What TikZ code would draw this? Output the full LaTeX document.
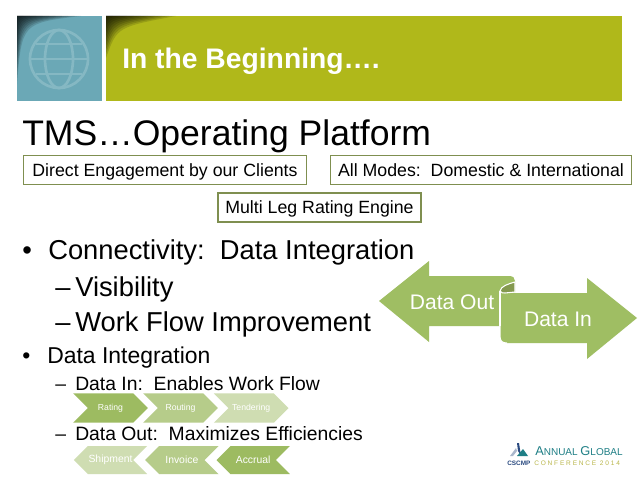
\documentclass[tikz,border=0pt]{standalone}
\usepackage{fontspec}
\setmainfont{Liberation Sans}
\usepackage{tikz}
\usetikzlibrary{positioning,shapes.symbols}

\definecolor{headerolive}{HTML}{B0B81A}
\definecolor{globeteal}{HTML}{6BA8B6}
\definecolor{globeline}{HTML}{85B8C3}
\definecolor{boxline}{HTML}{7F8F50}
\definecolor{arrowgreen}{HTML}{9FBE63}
\definecolor{curlgreen}{HTML}{84994F}
\definecolor{stepdark}{HTML}{9DBB61}
\definecolor{stepmid}{HTML}{B6CC8A}
\definecolor{steplight}{HTML}{CFDDB2}
\definecolor{logoteal}{HTML}{1F7F86}
\definecolor{logoolive}{HTML}{B9B64A}
\definecolor{logoblue}{HTML}{2A4A80}

\tikzset{
	label/.style={anchor=base west,inner sep=0pt,text=black},
	levelone/.style={label,font=\fontsize{20.5pt}{20.5pt}\selectfont},
	leveltwo/.style={label,font=\fontsize{20.5pt}{20.5pt}\selectfont},
	levelthree/.style={label,font=\fontsize{17.2pt}{17.2pt}\selectfont},
	levelfour/.style={label,font=\fontsize{14.5pt}{14.5pt}\selectfont},
	infobox/.style={draw=boxline,line width=1.1pt,fill=white,inner sep=0pt,minimum height=22pt,text height=12pt,text depth=3pt,text=black,font=\fontsize{13.3pt}{13.3pt}\selectfont},
	flowstep/.style={signal,signal from=west,signal to=east,signal pointer angle=90,draw=none,inner sep=0pt,minimum height=22pt,minimum width=56pt,text=white,font=\fontsize{6.5pt}{6.5pt}\selectfont},
	backstep/.style={flowstep,signal from=east,signal to=west,minimum height=21pt,minimum width=55pt,font=\fontsize{7.8pt}{7.8pt}\selectfont},
	arrowlabel/.style={text=white,inner sep=0pt,font=\fontsize{15.8pt}{15.8pt}\selectfont},
}

\begin{document}
\begin{tikzpicture}[x=0.75pt,y=-0.75pt,node distance=53pt,on grid]
		\useasboundingbox (0,0) rectangle (638,478);
		\fill[white] (0,0) rectangle (638,478);

		% header
		\fill[globeteal] (17,16) rectangle (102,101);
		\fill[headerolive] (106,16) rectangle (622,101);
		\foreach \k in {1,...,10} {
			\fill[black,opacity=0.14] (17,16) -- ({17+6.4*\k},16) .. controls ({17+0.5*\k},{16+0.7*\k}) .. (17,{16+6.8*\k}) -- cycle;
			\fill[black,opacity=0.14] (106,16) -- ({106+7*\k},16) .. controls ({106+1.1*\k},{16+1.1*\k}) .. (106,{16+4.2*\k}) -- cycle;
		}
		\begin{scope}[draw=globeline,line width=2pt]
			\draw (59,59) circle (29);
			\draw (59,59) ellipse (14 and 29);
			\draw (30,59) -- (88,59);
			\draw (36,44) -- (82,44);
			\draw (36,74) -- (82,74);
		\end{scope}
		\node[label,text=white,font=\bfseries\fontsize{21.2pt}{21.2pt}\selectfont] (Title) at (122,69) {In the Beginning….};

		\node[label,font=\fontsize{26.65pt}{26.65pt}\selectfont] (Platform) at (22,145) {TMS…Operating Platform};

		% boxes
		\node[infobox,minimum width=212pt] (Direct) at (165,170) {Direct Engagement by our Clients};
		\node[infobox,minimum width=226pt] (Modes) at (481,170) {All Modes:\ \ Domestic \& International};
		\node[infobox,minimum width=152pt] (Engine) at (319.5,207.5) {Multi Leg Rating Engine};

		% bullets
		\node[levelone] (BulletOne) at (22,259) {•};
		\node[levelone] (Connectivity) at (48,259) {Connectivity:\ \ Data Integration};
		\node[leveltwo] (DashOne) at (55,296) {–};
		\node[leveltwo] (Visibility) at (75,296) {Visibility};
		\node[leveltwo] (DashTwo) at (55,331) {–};
		\node[leveltwo] (WorkFlow) at (75,331) {Work Flow Improvement};
		\node[levelthree] (BulletTwo) at (22,363) {•};
		\node[levelthree] (Integration) at (47,363) {Data Integration};
		\node[levelfour] (DashThree) at (55,390) {–};
		\node[levelfour] (DataIn) at (75,390) {Data In:\ \ Enables Work Flow};
		\node[levelfour] (DashFour) at (55,440) {–};
		\node[levelfour] (DataOut) at (75,440) {Data Out:\ \ Maximizes Efficiencies};

		% chevrons
		\node[flowstep,fill=stepdark] (Rating) at (110.5,408) {Rating\hspace{3pt}};
		\node[flowstep,fill=stepmid] (Routing) [right=of Rating,xshift=-0.5pt] {Routing};
		\node[flowstep,fill=steplight] (Tendering) [right=of Routing] {Tendering};
		\node[backstep,fill=steplight] (Shipment) at (110.5,460) {Shipment\hspace{10.5pt}};
		\node[backstep,fill=stepmid] (Invoice) [right=of Shipment,xshift=0.5pt] {Invoice\hspace{6pt}};
		\node[backstep,fill=stepdark] (Accrual) [right=of Invoice,xshift=0.5pt] {Accrual\hspace{10pt}};

		% arrows
		\fill[arrowgreen] (429,276) -- (429,261) -- (379,301) -- (429,342) -- (429,326) -- (500,326) -- (500,292) -- (515,292) -- (515,281) .. controls (515,278) and (513,276) .. (509,276) -- cycle;
		\fill[arrowgreen] (587,293) -- (587,278) -- (637,318) -- (587,359) -- (587,343) -- (507,343) .. controls (502,343) and (500,341) .. (500,336) -- (500,291) .. controls (501,293) and (503,293) .. (505,293) -- cycle;
		\draw[white,line width=0.8pt] (500,326) -- (500,336) .. controls (500,341) and (502,343) .. (507,343);
		\draw[white,line width=0.8pt] (500,326) -- (500,291);
		\fill[curlgreen,draw=white,line width=0.8pt] (500,291) .. controls (501,286) and (508,284) .. (515,282) -- (515,292) -- (505,293) .. controls (503,293) and (501,293) .. (500,291) -- cycle;
		\node[arrowlabel] (OutLabel) at (452,302) {Data Out};
		\node[arrowlabel] (InLabel) at (558,319) {Data In};

		% logo
		\fill[logoblue] (517,443) -- (519,443) -- (521,456) -- (518,451) -- cycle;
		\fill[logoblue!40] (510,456) -- (516,448) -- (517,451) -- (513,456) -- cycle;
		\fill[logoteal] (517,456) -- (528,456) -- (523,449) -- cycle;
		\node[anchor=base west,inner sep=0pt,text=logoteal,font=\fontsize{9.6pt}{9.6pt}\selectfont] (Annual) at (535,455) {A\fontsize{7.5pt}{7.5pt}\selectfont NNUAL \fontsize{9.6pt}{9.6pt}\selectfont G\fontsize{7.5pt}{7.5pt}\selectfont LOBAL};
		\node[anchor=base west,inner sep=0pt,text=logoolive,font=\fontsize{4.9pt}{4.9pt}\selectfont] (Conference) at (534,465) {C O N F E R E N C E \ 2 0 1 4};
		\node[anchor=base west,inner sep=0pt,text=logoblue,font=\bfseries\fontsize{4.8pt}{4.8pt}\selectfont] (Cscmp) at (507,465) {CSCMP};
\end{tikzpicture}
\end{document}
